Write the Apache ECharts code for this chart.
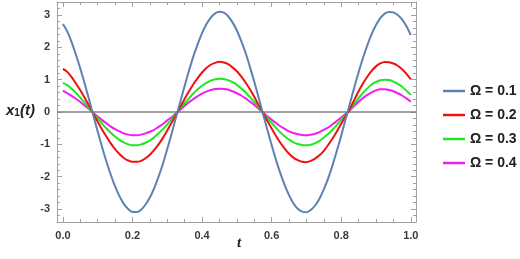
<!DOCTYPE html>
<html>
<head>
<meta charset="utf-8">
<script src="https://cdn.jsdelivr.net/npm/echarts@6/dist/echarts.min.js"></script>
<style>html,body{margin:0;padding:0;background:#fff;}#c{width:520px;height:259px;}</style>
</head>
<body>
<div id="c"></div>
<script>
const tValues = [0,0.0125,0.025,0.0375,0.05,0.0625,0.075,0.0875,0.1,0.1125,0.125,0.1375,0.15,0.1625,0.175,0.1875,
  0.2,0.2125,0.225,0.2375,0.25,0.2625,0.275,0.2875,0.3,0.3125,0.325,0.3375,0.35,0.3625,0.375,0.3875,
  0.4,0.4125,0.425,0.4375,0.45,0.4625,0.475,0.4875,0.5,0.5125,0.525,0.5375,0.55,0.5625,0.575,0.5875,
  0.6,0.6125,0.625,0.6375,0.65,0.6625,0.675,0.6875,0.7,0.7125,0.725,0.7375,0.75,0.7625,0.775,0.7875,
  0.8,0.8125,0.825,0.8375,0.85,0.8625,0.875,0.8875,0.9,0.9125,0.925,0.9375,0.95,0.9625,0.975,0.9875,1.0];
const omega01 = [2.72,2.49,2.16,1.77,1.34,0.88,0.39,-0.11,-0.60,-1.08,-1.53,-1.94,-2.30,-2.60,-2.84,-3.00,
  -3.09,-3.09,-3.02,-2.86,-2.64,-2.35,-2.00,-1.60,-1.14,-0.67,-0.17,0.32,0.81,1.28,1.72,2.10,
  2.44,2.71,2.92,3.05,3.10,3.07,2.96,2.77,2.52,2.20,1.83,1.40,0.94,0.45,-0.05,-0.54,
  -1.02,-1.48,-1.89,-2.26,-2.57,-2.82,-2.99,-3.08,-3.10,-3.03,-2.89,-2.68,-2.39,-2.05,-1.65,-1.20,
  -0.73,-0.23,0.26,0.76,1.23,1.67,2.06,2.41,2.69,2.90,3.04,3.09,3.08,3.00,2.86,2.65,2.38];
const omega02 = [1.33,1.24,1.08,0.88,0.67,0.44,0.20,-0.05,-0.30,-0.54,-0.76,-0.97,-1.15,-1.30,-1.42,-1.50,
  -1.54,-1.54,-1.51,-1.43,-1.32,-1.17,-1.00,-0.80,-0.57,-0.33,-0.09,0.16,0.41,0.64,0.86,1.05,
  1.22,1.36,1.46,1.52,1.55,1.53,1.48,1.38,1.26,1.10,0.91,0.70,0.47,0.22,-0.02,-0.27,
  -0.51,-0.74,-0.95,-1.13,-1.29,-1.41,-1.49,-1.54,-1.55,-1.51,-1.44,-1.34,-1.20,-1.02,-0.82,-0.60,
  -0.36,-0.13,0.10,0.37,0.64,0.88,1.09,1.27,1.41,1.50,1.545,1.54,1.50,1.43,1.32,1.18,1.01];
const omega03 = [0.90,0.83,0.72,0.59,0.44,0.29,0.13,-0.04,-0.20,-0.36,-0.51,-0.64,-0.76,-0.86,-0.94,-1.00,
  -1.03,-1.03,-1.00,-0.95,-0.88,-0.78,-0.66,-0.53,-0.38,-0.22,-0.06,0.11,0.27,0.42,0.57,0.70,
  0.81,0.90,0.97,1.01,1.03,1.02,0.98,0.92,0.84,0.73,0.61,0.46,0.31,0.15,-0.02,-0.18,
  -0.34,-0.49,-0.63,-0.75,-0.85,-0.94,-0.99,-1.02,-1.03,-1.01,-0.96,-0.89,-0.79,-0.68,-0.55,-0.40,
  -0.24,-0.09,0.07,0.25,0.43,0.59,0.73,0.85,0.93,0.98,1.00,0.99,0.94,0.87,0.78,0.66,0.53];
const omega04 = [0.66,0.58,0.50,0.41,0.31,0.20,0.09,-0.03,-0.14,-0.25,-0.35,-0.45,-0.53,-0.60,-0.66,-0.70,
  -0.72,-0.72,-0.70,-0.66,-0.61,-0.55,-0.46,-0.37,-0.26,-0.16,-0.04,0.07,0.19,0.30,0.40,0.49,
  0.57,0.63,0.68,0.71,0.72,0.71,0.69,0.64,0.58,0.51,0.42,0.32,0.22,0.10,-0.01,-0.13,
  -0.24,-0.34,-0.44,-0.52,-0.60,-0.65,-0.69,-0.71,-0.72,-0.70,-0.67,-0.62,-0.55,-0.48,-0.38,-0.28,
  -0.17,-0.06,0.05,0.19,0.32,0.43,0.53,0.61,0.67,0.70,0.70,0.68,0.64,0.58,0.51,0.42,0.32];
const seriesNames = ['Ω = 0.1','Ω = 0.2','Ω = 0.3','Ω = 0.4'];
const xMajorTicks = [0,0.2,0.4,0.6,0.8,1.0];
const xMinorTicks = [0.05,0.1,0.15,0.25,0.3,0.35,0.45,0.5,0.55,0.65,0.7,0.75,0.85,0.9,0.95];
const yMajorTicks = [-3,-2,-1,0,1,2,3];
const yMinorTicks = [-3.2,-2.8,-2.6,-2.4,-2.2,-1.8,-1.6,-1.4,-1.2,-0.8,-0.6,-0.4,-0.2,0.2,0.4,0.6,0.8,1.2,1.4,1.6,1.8,2.2,2.4,2.6,2.8,3.2];

const XMIN = -0.017, XMAX = 1.015, YMIN = -3.4, YMAX = 3.4;
const frameColor = '#a0a0a0';
const labelStyle = {color:'#3a3a3a', fontWeight:'bold', fontFamily:'Liberation Sans, Arial, sans-serif', fontSize:11};

function xAx(pos, ticks, len, showLine, labels){
  return {type:'value', position:pos, min:XMIN, max:XMAX, splitLine:{show:false},
    axisLine:{show:showLine, onZero:false, lineStyle:{color:frameColor, width:1}},
    axisTick:{show:true, inside:true, length:len, customValues:ticks, lineStyle:{color:frameColor}},
    axisLabel: labels ? Object.assign({show:true, customValues:ticks, margin:8, formatter:v=>v.toFixed(1)}, labelStyle) : {show:false}};
}
function yAx(pos, ticks, len, showLine, labels){
  return {type:'value', position:pos, min:YMIN, max:YMAX, splitLine:{show:false},
    axisLine:{show:showLine, onZero:false, lineStyle:{color:frameColor, width:1}},
    axisTick:{show:true, inside:true, length:len, customValues:ticks, lineStyle:{color:frameColor}},
    axisLabel: labels ? Object.assign({show:true, customValues:ticks, margin:7, formatter:v=>String(v)}, labelStyle) : {show:false}};
}

const colors = ['#5e81b5','#f01010','#1ee81e','#f01ef0'];
const dataSets = [omega01, omega02, omega03, omega04];
const series = dataSets.map((d,i)=>({
  name: seriesNames[i], type:'line', xAxisIndex:0, yAxisIndex:0,
  data: tValues.map((t,k)=>[t,d[k]]), smooth:0.25, showSymbol:false, symbol:'none',
  lineStyle:{color:colors[i], width:2}, itemStyle:{color:colors[i]}, z: 10 - i,
  markLine: i===0 ? {silent:true, symbol:'none', label:{show:false}, lineStyle:{color:'#808080', width:1.5, type:'solid'}, data:[{yAxis:0}], animation:false} : undefined
}));

const chart = echarts.init(document.getElementById('c'), null, {renderer:'canvas'});
chart.setOption({
  animation:false,
  backgroundColor:'#fff',
  grid:{left:57, top:2, right:104, bottom:37, containLabel:false},
  xAxis:[xAx('bottom', xMajorTicks, 5, true, true), xAx('bottom', xMinorTicks, 3, false, false),
         xAx('top', xMajorTicks, 5, true, false), xAx('top', xMinorTicks, 3, false, false)],
  yAxis:[yAx('left', yMajorTicks, 5, true, true), yAx('left', yMinorTicks, 3, false, false),
         yAx('right', yMajorTicks, 5, true, false), yAx('right', yMinorTicks, 3, false, false)],
  legend:{orient:'vertical', left:438, top:78, itemWidth:22, itemHeight:2.5, itemGap:8, icon:'rect',
    data:seriesNames, textStyle:{color:'#222', fontWeight:'bold', fontSize:14, lineHeight:16, fontFamily:'Liberation Sans, Arial, sans-serif'}},
  graphic:[
    {type:'text', left:6, top:103, style:{text:'{x|x}{s|1}{x|(t)}', rich:{
      x:{fontSize:15, fontWeight:'bold', fontStyle:'italic', fill:'#222', fontFamily:'Liberation Sans, Arial, sans-serif'},
      s:{fontSize:10, fontWeight:'bold', fill:'#222', verticalAlign:'bottom', padding:[6,0,0,0], fontFamily:'Liberation Sans, Arial, sans-serif'}}}},
    {type:'text', left:237, top:236, style:{text:'t', fontSize:15, fontWeight:'bold', fontStyle:'italic', fill:'#222', fontFamily:'Liberation Serif, serif'}}
  ],
  series: series
});
</script>
</body>
</html>
